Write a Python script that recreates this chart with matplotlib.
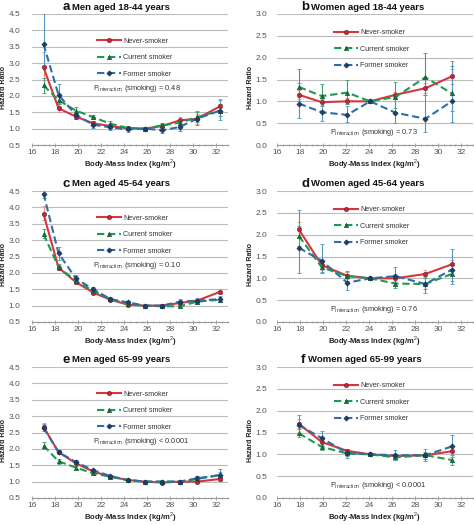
import numpy as np
import matplotlib
matplotlib.use('Agg')
import matplotlib.pyplot as plt
from matplotlib.ticker import MultipleLocator, FormatStrFormatter

plt.rcParams['font.family'] = ['Liberation Sans', 'DejaVu Sans']
plt.rcParams['mathtext.fontset'] = 'custom'
plt.rcParams['mathtext.rm'] = 'Liberation Sans'

nan = np.nan

# BMI category positions
MEN_BMI = [17.0, 18.3, 19.8, 21.3, 22.8, 24.3, 25.8, 27.3, 28.8, 30.3, 32.3]
WOMEN_BMI = [17.9, 19.9, 22.1, 24.1, 26.3, 28.9, 31.2]

# a: men 18-44
A_NEVER = [2.87, 1.62, 1.37, 1.16, 1.08, 1.01, 1.0, 1.08, 1.25, 1.30, 1.68]
A_NEVER_LO = [2.50, 1.50, 1.28, 1.10, 1.03, 0.97, nan, 1.02, 1.15, 1.15, 1.50]
A_NEVER_HI = [3.35, 1.75, 1.45, 1.22, 1.13, 1.05, nan, 1.15, 1.35, 1.45, 1.90]
A_CURRENT = [2.32, 1.87, 1.55, 1.35, 1.15, 1.02, 1.0, 1.10, 1.18, 1.35, 1.55]
A_CURRENT_LO = [2.10, 1.75, 1.45, 1.28, 1.08, 0.97, nan, 1.03, 1.08, 1.20, 1.40]
A_CURRENT_HI = [2.55, 2.00, 1.65, 1.42, 1.22, 1.07, nan, 1.17, 1.28, 1.50, 1.75]
A_FORMER = [3.58, 2.03, 1.42, 1.12, 1.04, 0.98, 1.0, 0.95, 1.05, 1.30, 1.55]
A_FORMER_LO = [2.90, 1.78, 1.30, 1.03, 0.95, 0.90, nan, 0.86, 0.93, 1.10, 1.25]
A_FORMER_HI = [4.60, 2.35, 1.55, 1.22, 1.13, 1.06, nan, 1.04, 1.18, 1.55, 1.88]

# b: women 18-44
B_NEVER = [1.15, 0.98, 1.00, 1.0, 1.15, 1.30, 1.57]
B_NEVER_LO = [1.05, 0.92, 0.93, nan, 1.08, 1.20, 1.40]
B_NEVER_HI = [1.25, 1.05, 1.07, nan, 1.22, 1.42, 1.75]
B_CURRENT = [1.33, 1.12, 1.20, 1.0, 1.10, 1.55, 1.18]
B_CURRENT_LO = [1.00, 0.90, 0.95, nan, 0.85, 1.15, 0.78]
B_CURRENT_HI = [1.75, 1.40, 1.50, nan, 1.45, 2.10, 1.80]
B_FORMER = [0.95, 0.75, 0.69, 1.0, 0.74, 0.60, 1.00]
B_FORMER_LO = [0.62, 0.55, 0.52, nan, 0.50, 0.30, 0.52]
B_FORMER_HI = [1.43, 1.00, 0.90, nan, 1.10, 1.15, 1.93]

# c: men 45-64
C_NEVER = [3.80, 2.16, 1.72, 1.40, 1.18, 1.03, 1.0, 1.00, 1.08, 1.15, 1.42]
C_NEVER_LO = [3.60, 2.08, 1.67, 1.36, 1.15, 1.00, nan, 0.97, 1.04, 1.10, 1.35]
C_NEVER_HI = [4.05, 2.25, 1.78, 1.45, 1.22, 1.06, nan, 1.04, 1.12, 1.21, 1.50]
C_CURRENT = [3.18, 2.18, 1.75, 1.45, 1.20, 1.05, 1.0, 0.98, 0.98, 1.12, 1.18]
C_CURRENT_LO = [3.05, 2.08, 1.68, 1.39, 1.15, 1.01, nan, 0.94, 0.93, 1.06, 1.10]
C_CURRENT_HI = [3.35, 2.28, 1.82, 1.51, 1.25, 1.09, nan, 1.03, 1.04, 1.18, 1.27]
C_FORMER = [4.42, 2.60, 1.83, 1.50, 1.20, 1.10, 1.0, 1.00, 1.12, 1.15, 1.20]
C_FORMER_LO = [4.30, 2.40, 1.74, 1.43, 1.14, 1.05, nan, 0.95, 1.05, 1.08, 1.10]
C_FORMER_HI = [4.55, 2.80, 1.92, 1.57, 1.26, 1.15, nan, 1.05, 1.19, 1.22, 1.30]

# d: women 45-64
D_NEVER = [2.12, 1.30, 1.06, 1.0, 1.00, 1.10, 1.32]
D_NEVER_LO = [1.95, 1.20, 0.98, nan, 0.93, 1.02, 1.22]
D_NEVER_HI = [2.30, 1.40, 1.14, nan, 1.08, 1.18, 1.42]
D_CURRENT = [1.97, 1.25, 1.05, 1.0, 0.88, 0.87, 1.10]
D_CURRENT_LO = [1.75, 1.12, 0.95, nan, 0.78, 0.75, 0.95]
D_CURRENT_HI = [2.20, 1.40, 1.16, nan, 0.98, 1.00, 1.30]
D_FORMER = [1.70, 1.40, 0.90, 1.0, 1.05, 0.87, 1.20]
D_FORMER_LO = [1.13, 1.15, 0.73, nan, 0.85, 0.67, 0.88]
D_FORMER_HI = [2.56, 1.78, 1.10, nan, 1.27, 1.05, 1.67]

# e: men 65-99
E_NEVER = [2.67, 1.90, 1.56, 1.31, 1.15, 1.05, 1.0, 0.97, 1.00, 1.00, 1.08]
E_NEVER_LO = [2.55, 1.83, 1.50, 1.27, 1.12, 1.02, nan, 0.95, 0.97, 0.96, 1.02]
E_NEVER_HI = [2.80, 1.97, 1.62, 1.35, 1.18, 1.08, nan, 1.00, 1.03, 1.05, 1.15]
E_CURRENT = [2.10, 1.62, 1.43, 1.25, 1.15, 1.05, 1.0, 1.00, 1.00, 1.08, 1.20]
E_CURRENT_LO = [2.00, 1.55, 1.38, 1.20, 1.10, 1.01, nan, 0.96, 0.95, 1.00, 1.05]
E_CURRENT_HI = [2.20, 1.70, 1.48, 1.30, 1.20, 1.09, nan, 1.04, 1.05, 1.17, 1.38]
E_FORMER = [2.65, 1.90, 1.60, 1.35, 1.17, 1.05, 1.0, 1.00, 1.00, 1.10, 1.20]
E_FORMER_LO = [2.55, 1.84, 1.55, 1.31, 1.14, 1.02, nan, 0.97, 0.97, 1.04, 1.10]
E_FORMER_HI = [2.77, 1.96, 1.65, 1.39, 1.20, 1.08, nan, 1.03, 1.03, 1.16, 1.30]

# f: women 65-99
F_NEVER = [1.70, 1.28, 1.08, 1.0, 0.96, 0.98, 1.07]
F_NEVER_LO = [1.60, 1.22, 1.03, nan, 0.92, 0.93, 1.00]
F_NEVER_HI = [1.80, 1.35, 1.13, nan, 1.00, 1.03, 1.15]
F_CURRENT = [1.48, 1.17, 1.02, 1.0, 0.93, 0.98, 0.87]
F_CURRENT_LO = [1.40, 1.10, 0.96, nan, 0.87, 0.90, 0.76]
F_CURRENT_HI = [1.57, 1.25, 1.08, nan, 0.99, 1.06, 0.98]
F_FORMER = [1.67, 1.37, 1.03, 1.0, 0.98, 0.98, 1.18]
F_FORMER_LO = [1.50, 1.20, 0.92, nan, 0.88, 0.85, 0.93]
F_FORMER_HI = [1.90, 1.53, 1.12, nan, 1.10, 1.12, 1.44]

SERIES_LABELS = ['Never-smoker', 'Current smoker', 'Former smoker']
P_TEXTS = ['= 0.48', '= 0.73', '= 0.10', '= 0.76', '< 0.0001', '< 0.0001']
TITLES = [('a', 'Men aged 18-44 years'), ('b', 'Women aged 18-44 years'),
          ('c', 'Men aged 45-64 years'), ('d', 'Women aged 45-64 years'),
          ('e', 'Men aged 65-99 years'), ('f', 'Women aged 65-99 years')]

STYLES = [
    dict(color='#d8363f', ls='-', marker='o', mfc='#b82a3c', mec='#8c1f30', ecolor='#e8907c', dashes=None),
    dict(color='#1f9a52', ls='--', marker='^', mfc='#1b6e3a', mec='#145a2e', ecolor='#3aa56a', dashes=(3.5, 1.8)),
    dict(color='#2f6ea8', ls='--', marker='D', mfc='#1f3f6a', mec='#172f52', ecolor='#4f97bf', dashes=(3.5, 1.8)),
]

PANELS = [
    (MEN_BMI, [(A_NEVER, A_NEVER_LO, A_NEVER_HI), (A_CURRENT, A_CURRENT_LO, A_CURRENT_HI), (A_FORMER, A_FORMER_LO, A_FORMER_HI)]),
    (WOMEN_BMI, [(B_NEVER, B_NEVER_LO, B_NEVER_HI), (B_CURRENT, B_CURRENT_LO, B_CURRENT_HI), (B_FORMER, B_FORMER_LO, B_FORMER_HI)]),
    (MEN_BMI, [(C_NEVER, C_NEVER_LO, C_NEVER_HI), (C_CURRENT, C_CURRENT_LO, C_CURRENT_HI), (C_FORMER, C_FORMER_LO, C_FORMER_HI)]),
    (WOMEN_BMI, [(D_NEVER, D_NEVER_LO, D_NEVER_HI), (D_CURRENT, D_CURRENT_LO, D_CURRENT_HI), (D_FORMER, D_FORMER_LO, D_FORMER_HI)]),
    (MEN_BMI, [(E_NEVER, E_NEVER_LO, E_NEVER_HI), (E_CURRENT, E_CURRENT_LO, E_CURRENT_HI), (E_FORMER, E_FORMER_LO, E_FORMER_HI)]),
    (WOMEN_BMI, [(F_NEVER, F_NEVER_LO, F_NEVER_HI), (F_CURRENT, F_CURRENT_LO, F_CURRENT_HI), (F_FORMER, F_FORMER_LO, F_FORMER_HI)]),
]

W, H = 474, 525
fig = plt.figure(figsize=(W / 100, H / 100), dpi=100)
renderer = fig.canvas.get_renderer()

# layout in pixels: (left, top) of axes per panel
AX_LEFT = [32, 277]
AX_WIDTH = [196, 195.5]
AX_TOP = [14, 191, 367]
AX_HEIGHT = 131
LEG_TOP = {0: 0.82, 1: 0.885}   # legend top (axes coords) men / women
P_Y = {0: 0.43, 1: 0.095}

for i, (bmi, series) in enumerate(PANELS):
    col, row = i % 2, i // 2
    left = AX_LEFT[col] / W
    bottom = 1 - (AX_TOP[row] + AX_HEIGHT) / H
    ax = fig.add_axes([left, bottom, AX_WIDTH[col] / W, AX_HEIGHT / H])
    men = col == 0

    for (hr, lo, hi), st, lab in zip(series, STYLES, SERIES_LABELS):
        hr = np.array(hr)
        err = np.array([hr - np.array(lo), np.array(hi) - hr])
        ax.errorbar(bmi, hr, yerr=err, fmt='none', ecolor=st['ecolor'],
                    elinewidth=0.8, capsize=1.5, capthick=0.6, zorder=2)
        line, = ax.plot(bmi, hr, color=st['color'], ls=st['ls'], lw=1.5,
                        marker=st['marker'], ms=3.2 if st['marker'] != 'D' else 2.7,
                        mfc=st['mfc'], mec=st['mec'], mew=0.4, label=lab, zorder=3)
        if st['dashes']:
            line.set_dashes(st['dashes'])

    ax.set_xlim(16, 33)
    if men:
        ax.set_ylim(0.5, 4.5)
        ax.set_yticks(np.arange(0.5, 4.51, 0.5))
    else:
        ax.set_ylim(0.0, 3.0)
        ax.set_yticks(np.arange(0.0, 3.01, 0.5))
    ax.yaxis.set_major_formatter(FormatStrFormatter('%.1f'))
    ax.xaxis.set_major_locator(MultipleLocator(2))
    ax.xaxis.set_minor_locator(MultipleLocator(0.5))
    ax.grid(axis='y', color='#bdbdbd', lw=0.8)
    ax.set_axisbelow(True)
    for s in ['top', 'right', 'left']:
        ax.spines[s].set_visible(False)
    ax.spines['bottom'].set_color('#9a9a9a')
    ax.spines['bottom'].set_linewidth(0.8)
    ax.tick_params(axis='y', length=0, labelsize=6, labelcolor='#555555', pad=8.5 if men else 7)
    ax.tick_params(axis='x', which='major', direction='inout', length=3, width=0.6,
                   color='#9a9a9a', labelsize=6, labelcolor='#555555', pad=1.5)
    ax.tick_params(axis='x', which='minor', direction='inout', length=2, width=0.5, color='#9a9a9a')

    ax.set_xlabel('Body-Mass Index (kg/m$^{2}$)', fontsize=5.5, fontweight='bold',
                  color='#222222', labelpad=0.5)
    ax.set_ylabel('Hazard Ratio', fontsize=5, fontweight='bold', color='#222222')
    ax.yaxis.set_label_coords(-0.128 if men else -0.118, 0.44)

    leg_x = 0.33 if men else 0.29
    ax.legend(loc='upper left', bbox_to_anchor=(leg_x, LEG_TOP[col]), frameon=False,
              fontsize=5.1, handlelength=3.5, handletextpad=0.2, labelspacing=1.35,
              borderaxespad=0, borderpad=0, labelcolor='#333333')

    ax.text(0.31 if men else 0.27, P_Y[col],
            r'P$_{\mathregular{interaction}}$ (smoking) ' + P_TEXTS[i],
            transform=ax.transAxes, fontsize=5.3, color='#333333', va='center', ha='left')

    letter, title = TITLES[i]
    tx = (63 if men else 301) / W
    ty = 1 - (AX_TOP[row] - 7) / H
    t1 = fig.text(tx, ty, letter, fontsize=9.5, fontweight='bold', va='center', ha='left', color='#111111')
    bb = t1.get_window_extent(renderer=renderer)
    fig.text((bb.x1 + 2) / W, ty, title, fontsize=6.8, fontweight='bold', va='center', ha='left', color='#111111')

fig.savefig('out.png', dpi=100)
